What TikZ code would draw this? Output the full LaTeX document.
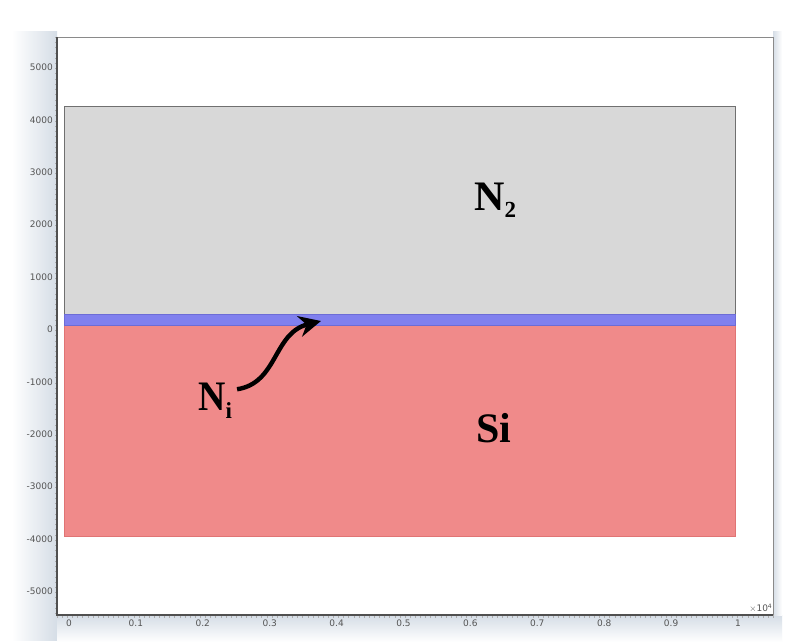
\documentclass[tikz,border=0pt]{standalone}
\usepackage{fontspec}
\setmainfont{Liberation Serif}
\newfontfamily\axisfont{DejaVu Sans}
\usetikzlibrary{arrows.meta}
\definecolor{axisbg}{HTML}{D5DDE6}
\definecolor{framegray}{HTML}{8A8A8A}
\definecolor{axisdark}{HTML}{505050}
\definecolor{gasgray}{HTML}{D8D8D8}
\definecolor{gasbord}{HTML}{707070}
\definecolor{layerblue}{HTML}{8080EE}
\definecolor{layerbord}{HTML}{6C6CD6}
\definecolor{sired}{HTML}{F08A8A}
\definecolor{sibord}{HTML}{E07474}
\definecolor{ticktext}{HTML}{555555}
\tikzset{
  region/.style={rectangle, inner sep=0pt, anchor=north west},
  ticklbl/.style={font=\axisfont\fontsize{9}{10}\selectfont, text=ticktext, inner sep=0pt},
  biglbl/.style={font=\fontsize{42}{44}\selectfont\bfseries, inner sep=0pt, anchor=base west},
  minortick/.style={draw=framegray!70, line width=0.4pt},
  bigarrow/.style={line width=4.4pt, -{Stealth[length=22pt,width=21pt]}}
}
\begin{document}
\begin{tikzpicture}[x=1pt,y=-1pt]
\useasboundingbox (0,0) rectangle (787,642);
\fill[white] (0,0) rectangle (787,642);
% axis background shading
\shade[left color=white, right color=axisbg] (12,32) rectangle (57,640);
\shade[top color=axisbg, bottom color=white] (57,615) rectangle (782,642);
\shade[left color=axisbg, right color=white] (773,32) rectangle (782,615);
\fill[white] (57,37) rectangle (773,615);
% minor ticks
\foreach \k in {0,...,110} {
  \draw[minortick] (55,{37+\k*5.24}) -- (57,{37+\k*5.24});
}
\foreach \k in {0,...,140} {
  \draw[minortick] ({57+\k*5.117},615) -- ({57+\k*5.117},617.5);
}
% frame
\draw[framegray, line width=0.8pt] (57,37) -- (773,37) -- (773,615);
\draw[axisdark, line width=1.2pt] (57,37) -- (57,615) -- (773,615);
% y tick labels
\foreach \v in {5000,4000,3000,2000,1000,0,-1000,-2000,-3000,-4000,-5000} {
  \node[ticklbl, anchor=east] (yl\v) at (53,{329.5-0.0524*\v}) {\v};
}
% x tick labels
\foreach \lab [count=\i from 0] in {0,0.1,0.2,0.3,0.4,0.5,0.6,0.7,0.8,0.9,1} {
  \node[ticklbl] (xl\i) at ({69+66.9*\i},623) {\lab};
}
\node[ticklbl, anchor=south east] (xexp) at (772,613) {$\times$10\raisebox{3.5pt}{\fontsize{6}{6}\selectfont 4}};
% regions
\node[region, fill=gasgray, draw=gasbord, line width=0.8pt, minimum width=671pt, minimum height=208pt] (gas) at (64,106) {};
\node[region, fill=sired, draw=sibord, line width=0.6pt, minimum width=671pt, minimum height=211pt] (si) at (64,325) {};
\node[region, fill=layerblue, draw=layerbord, line width=0.6pt, minimum width=671pt, minimum height=11pt] (layer) at (64,314) {};
% labels
\node[biglbl] (n2) at (474,210) {N\raisebox{-7pt}{\fontsize{23}{23}\selectfont 2}};
\node[biglbl] (silbl) at (476,442) {Si};
\node[biglbl] (ni) at (198,410) {\scalebox{0.9}[1]{N}\raisebox{-8pt}{\fontsize{23}{23}\selectfont i}};
% arrow
\coordinate (hit) at (321,321);
\draw[bigarrow] ([yshift=11pt,xshift=5pt]ni.east) .. controls (278,383) and (273,333) .. (hit);
\end{tikzpicture}
\end{document}
